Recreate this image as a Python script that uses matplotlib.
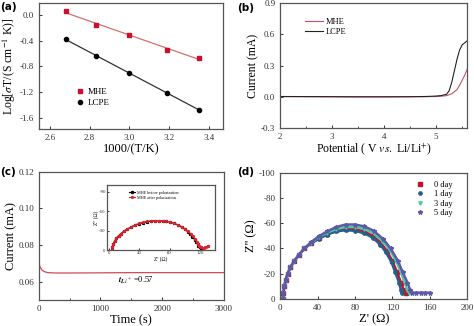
import numpy as np
import matplotlib
matplotlib.use("Agg")
import matplotlib.pyplot as plt

plt.rcParams['font.family'] = ['Liberation Serif', 'DejaVu Serif']
plt.rcParams['mathtext.fontset'] = 'stix'
plt.rcParams['axes.unicode_minus'] = False

# (a) Arrhenius data
inv_t = [2.68, 2.83, 3.00, 3.19, 3.35]
log_mhe = [0.06, -0.15, -0.31, -0.54, -0.67]
log_lcpe = [-0.37, -0.64, -0.91, -1.21, -1.48]

# (b) linear sweep voltammetry
v_lcpe = [2.0, 2.5, 3.0, 3.5, 4.0, 4.5, 4.8, 5.0, 5.1, 5.2, 5.25, 5.3, 5.35, 5.4, 5.45, 5.5, 5.55, 5.6]
i_lcpe = [0.004, 0.003, 0.002, 0.001, 0.001, 0.002, 0.004, 0.008, 0.013, 0.025, 0.06, 0.14, 0.25, 0.36, 0.45, 0.50, 0.52, 0.54]
v_mhe = [2.0, 2.5, 3.0, 3.5, 4.0, 4.5, 4.8, 5.0, 5.1, 5.2, 5.3, 5.4, 5.46, 5.5, 5.55, 5.6]
i_mhe = [0.003, 0.002, 0.001, 0.0, 0.0, 0.001, 0.002, 0.004, 0.007, 0.012, 0.03, 0.07, 0.12, 0.16, 0.21, 0.27]

# (c) polarization current
t_pol = [0, 10, 20, 40, 60, 100, 150, 200, 300, 500, 1000, 1500, 2000, 2500, 3000]
i_pol = [0.0705, 0.069, 0.068, 0.0668, 0.066, 0.0653, 0.0649, 0.0648, 0.0647, 0.0647, 0.0648, 0.0649, 0.0649, 0.0649, 0.0649]

# (c) inset impedance before / after polarization
zr_before = [4, 5, 6, 8, 10, 13, 16, 20, 24, 29, 34, 40, 45, 50, 56, 61, 66, 71, 76, 81, 86, 91, 96, 100, 104, 107, 110, 113, 115, 117, 118, 120, 121, 122, 124]
zi_before = [0, -5, -10, -14, -18, -22, -25, -29, -32, -35, -38, -40.5, -42, -43.5, -44.5, -45, -45, -44.8, -44, -43, -41, -38.5, -35, -32, -28, -24, -20, -16, -12, -9, -6, -4, -3, -2.5, -2]
zr_after = [4, 5, 6, 8, 10, 13, 16, 20, 24, 29, 34, 40, 45, 50, 56, 61, 66, 71, 76, 81, 86, 91, 96, 100, 104, 108, 111, 114, 116, 118, 119, 121, 122, 124, 125, 127, 128, 130, 131]
zi_after = [0, -5, -10, -14, -18, -22, -25, -29, -32, -35.5, -38.5, -41, -42.5, -44, -45, -45.5, -45.5, -45.2, -44.5, -43.5, -41.5, -39, -36, -33, -29, -25, -21, -17, -13, -10, -7, -5, -4, -3, -3, -4, -5, -6, -7]

# (d) impedance after storage
days = ['0 day', '1 day', '3 day', '5 day']
zr_days = [
    [3, 3.5, 4.5, 6, 8, 11, 15, 20, 26, 33, 41, 50, 60, 70, 80, 90, 99, 107, 114, 120, 125, 129, 132, 134],
    [3, 3.5, 4.5, 6, 8, 11, 15, 20, 26, 33, 41, 50, 60, 70, 80, 90, 99, 107, 113, 119, 123, 127, 129, 130],
    [3, 3.5, 4.5, 6, 8, 11, 15, 20, 26, 33, 41, 50, 60, 70, 80, 90, 100, 109, 117, 124, 129, 133, 136, 138],
    [3, 3.5, 4.5, 6, 8, 11, 15, 20, 26, 33, 41, 50, 60, 70, 80, 90, 100, 110, 118, 126, 131, 136, 139, 141, 145, 150, 155, 160],
]
zi_days = [
    [0, -5, -10, -15, -20, -25, -30, -35, -40, -44, -48, -51.5, -54.5, -55.5, -55.5, -53.5, -50, -45, -38, -30, -21, -13, -7, -5],
    [0, -5, -10, -15, -20, -25, -30, -35, -40, -44, -47.5, -51, -53.5, -54.5, -54, -52, -48.5, -43, -37, -29, -21, -13, -7, -5],
    [0, -5, -10, -15, -20, -25, -30, -35, -40, -44.5, -49, -52.5, -55.5, -57, -57, -55.5, -52, -46, -39, -30, -21, -13, -7, -5],
    [0, -5, -10, -15, -20, -25, -30, -35, -40, -45, -49.5, -53.5, -57, -59, -59, -57.5, -54, -47.5, -40, -30, -21, -13, -7, -5, -5, -5, -5, -5],
]
day_colors = ['#c8102e', '#2b5d8c', '#4ec9a0', '#5c5aa6']
day_markers = ['s', 'o', 'v', '*']

fig = plt.figure(figsize=(4.74, 3.26), dpi=100)


def style(ax, fs=6.5):
    for s in ax.spines.values():
        s.set_color('#555555')
        s.set_linewidth(0.9)
    ax.tick_params(direction='in', labelsize=fs, length=2.5, width=0.7, colors='#333333')


def panel_label(x, y, txt):
    fig.text(x / 474, 1 - y / 326, txt, fontsize=7.5, fontweight='bold',
             family='DejaVu Sans', va='center', ha='left')


# (a)
ax = fig.add_axes([0.082, 0.604, 0.388, 0.387])
for ys, c, m, lab in [(log_mhe, '#c8102e', 's', 'MHE'), (log_lcpe, 'black', 'o', 'LCPE')]:
    k, b = np.polyfit(inv_t, ys, 1)
    xx = np.array([inv_t[0], inv_t[-1]])
    ax.plot(xx, k * xx + b, color='#d07070' if c != 'black' else '#333333', lw=0.9)
    ax.plot(inv_t, ys, m, color=c, ms=3, label=lab, ls='none')
ax.set_xlim(2.545, 3.47)
ax.set_ylim(-1.78, 0.19)
ax.set_xticks([2.6, 2.8, 3.0, 3.2, 3.4])
ax.set_yticks([0.0, -0.4, -0.8, -1.2, -1.6])
style(ax)
ax.set_xlabel('1000/(T/K)', fontsize=9, labelpad=1)
ax.set_ylabel(r'Log[$\sigma$T/(S cm$^{-1}$ K)]', fontsize=8.5, labelpad=1)
ax.legend(loc='upper left', bbox_to_anchor=(0.16, 0.38), frameon=False, fontsize=6.5,
          handletextpad=0.3, handlelength=1.2, borderpad=0.2, labelspacing=0.3)
panel_label(0, 7, '(a)')

# (b)
ax = fig.add_axes([0.591, 0.607, 0.395, 0.383])
ax.plot(v_mhe, i_mhe, color='#c8506a', lw=0.8, label='MHE')
ax.plot(v_lcpe, i_lcpe, color='#222222', lw=0.8, label='LCPE')
ax.set_xlim(2, 5.6)
ax.set_ylim(-0.3, 0.9)
ax.set_xticks([2, 3, 4, 5])
ax.set_yticks([-0.3, 0.0, 0.3, 0.6, 0.9])
ax.set_xticks([2.5, 3.5, 4.5, 5.5], minor=True)
ax.tick_params(which='minor', direction='in', length=1.5, width=0.5)
style(ax)
ax.set_xlabel(r'Potential ( V $vs.$ Li/Li$^{+}$)', fontsize=8.5, labelpad=1)
ax.set_ylabel('Current (mA)', fontsize=8.5, labelpad=1)
ax.legend(loc='upper left', bbox_to_anchor=(0.1, 0.93), frameon=False, fontsize=6,
          handlelength=2.2, handletextpad=0.3, borderpad=0.2, labelspacing=0.2)
panel_label(237, 8, '(b)')

# (c)
ax = fig.add_axes([0.082, 0.080, 0.390, 0.393])
ax.plot(t_pol, i_pol, color='#d04858', lw=0.9)
ax.set_xlim(0, 3000)
ax.set_ylim(0.05, 0.12)
ax.set_xticks([0, 1000, 2000, 3000])
ax.set_yticks([0.06, 0.08, 0.10, 0.12])
ax.set_xticks([500, 1500, 2500], minor=True)
ax.tick_params(which='minor', direction='in', length=1.5, width=0.5)
style(ax)
ax.set_xlabel('Time (s)', fontsize=9, labelpad=1)
ax.set_ylabel('Current (mA)', fontsize=9, labelpad=1)
ax.text(0.43, 0.13, r'$\boldsymbol{t}_{\boldsymbol{Li^+}}$ =0.57', transform=ax.transAxes, fontsize=6)
panel_label(0, 172, '(c)')

# (c) inset
ins = fig.add_axes([0.226, 0.233, 0.228, 0.199])
ins.plot(zr_before, zi_before, 's-', color='black', ms=1.3, lw=0.8, label='MHE before polarization')
ins.plot(zr_after, zi_after, 'o-', color='#e0202a', ms=1.3, lw=0.8, label='MHE after polarization')
ins.set_xlim(-2, 140)
ins.set_ylim(0, -100)
ins.set_xticks([0, 40, 80, 120])
ins.set_yticks([0, -30, -60, -90])
style(ins, fs=3.5)
ins.tick_params(length=1.2, pad=1)
ins.set_xlabel("Z' (Ω)", fontsize=4, labelpad=0.5)
ins.set_ylabel("Z'' (Ω)", fontsize=4, labelpad=0.5)
ins.legend(loc='upper left', bbox_to_anchor=(0.18, 0.95), frameon=False, fontsize=3,
           handlelength=1.5, handletextpad=0.3, borderpad=0.1, labelspacing=0.2)

# (d)
ax = fig.add_axes([0.591, 0.083, 0.395, 0.387])
for zr, zi, c, m, lab in zip(zr_days, zi_days, day_colors, day_markers, days):
    ax.plot(zr, zi, m, color=c, ms=2.4 if m != '*' else 3.2, ls='-', lw=1.8, label=lab)
ax.set_xlim(0, 200)
ax.set_ylim(0, -100)
ax.set_xticks([0, 40, 80, 120, 160, 200])
ax.set_yticks([0, -20, -40, -60, -80, -100])
style(ax)
ax.set_xlabel("Z' (Ω)", fontsize=9, labelpad=1)
ax.set_ylabel("Z'' (Ω)", fontsize=9, labelpad=1)
leg = ax.legend(loc='upper right', bbox_to_anchor=(0.95, 0.98), frameon=False, fontsize=6,
                handlelength=0.8, handletextpad=1.2, borderpad=0.2, labelspacing=0.15)
for h in leg.legend_handles:
    h.set_linestyle('none')
panel_label(237, 172, '(d)')

fig.savefig('out.png', dpi=100)
